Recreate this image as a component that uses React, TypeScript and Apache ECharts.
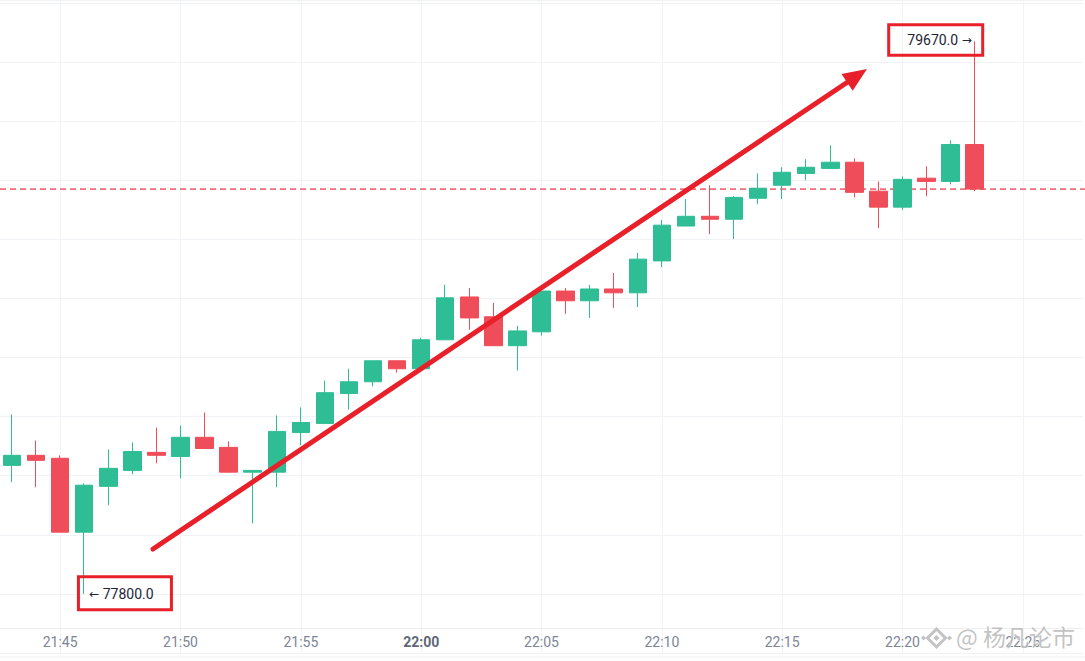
import React, { useEffect, useRef } from "react";
import * as echarts from "echarts";

const times = [
  "21:43", "21:44", "21:45", "21:46", "21:47", "21:48", "21:49", "21:50", "21:51", "21:52",
  "21:53", "21:54", "21:55", "21:56", "21:57", "21:58", "21:59", "22:00", "22:01", "22:02",
  "22:03", "22:04", "22:05", "22:06", "22:07", "22:08", "22:09", "22:10", "22:11", "22:12",
  "22:13", "22:14", "22:15", "22:16", "22:17", "22:18", "22:19", "22:20", "22:21", "22:22",
  "22:23", "22:24", "22:25", "22:26", "22:27",
];

const opens = [
  78235, 78269, 78259, 78009, 78164, 78218, 78279, 78265, 78330, 78296,
  78212, 78212, 78346, 78377, 78478, 78518, 78589, 78562, 78660, 78805,
  78738, 78640, 78687, 78825, 78792, 78832, 78819, 78927, 79045, 79078,
  79068, 79139, 79183, 79223, 79240, 79261, 79163, 79109, 79207, 79196,
  79321,
];
const closes = [
  78269, 78252, 78009, 78168, 78225, 78282, 78269, 78330, 78292, 78212,
  78218, 78350, 78380, 78481, 78518, 78589, 78562, 78660, 78802, 78734,
  78640, 78690, 78825, 78792, 78832, 78819, 78933, 79048, 79078, 79068,
  79142, 79173, 79227, 79244, 79261, 79159, 79109, 79203, 79196, 79321,
  79170,
];
const lows = [
  78178, 78161, 78009, 77800, 78100, 78205, 78242, 78191, 78292, 78212,
  78039, 78161, 78303, 78377, 78424, 78502, 78549, 78562, 78660, 78694,
  78640, 78556, 78674, 78748, 78734, 78768, 78771, 78906, 79045, 79018,
  79001, 79119, 79136, 79200, 79240, 79142, 79038, 79099, 79146, 79186,
  79163,
];
const highs = [
  78407, 78319, 78269, 78174, 78289, 78313, 78363, 78370, 78414, 78316,
  78218, 78404, 78431, 78522, 78562, 78589, 78589, 78667, 78846, 78835,
  78785, 78707, 78825, 78835, 78846, 78886, 78954, 79065, 79136, 79183,
  79146, 79223, 79244, 79271, 79318, 79274, 79196, 79213, 79247, 79335,
  79670,
];

const watermark = "@ 杨凡论市";

const UP = "#2ebd94";
const DOWN = "#ef4d59";
const RED = "#e8202a";
const DASH = "#f0606c";

export default function App() {
  const ref = useRef<HTMLDivElement>(null);

  useEffect(() => {
    const el = ref.current!;
    const chart = echarts.init(el, null, { renderer: "svg" });
    const data = opens.map((o, i) => [o, closes[i], lows[i], highs[i]]);
    const lastIdx = closes.length - 1;
    const lastClose = closes[lastIdx];

    chart.setOption({
      animation: false,
      backgroundColor: "#ffffff",
      grid: { left: -1, right: 2, top: 0, bottom: 8 },
      xAxis: {
        type: "category",
        data: times,
        boundaryGap: true,
        offset: -25,
        axisLine: { show: true, lineStyle: { color: "#eceef2", width: 1 } },
        axisTick: { show: false },
        axisLabel: {
          interval: (i: number) => i % 5 === 2,
          margin: 7,
          fontSize: 14,
          fontFamily: "Roboto",
          color: "#7d8596",
          formatter: (v: string) => (v === "22:00" ? "{b|" + v + "}" : v),
          rich: {
            b: { fontSize: 14, fontFamily: "Roboto", fontWeight: "bold", color: "#5f6778" },
          },
        },
        splitLine: {
          show: true,
          alignWithLabel: true,
          interval: (i: number) => i % 5 === 2,
          lineStyle: { color: "#f2f3f6", width: 1 },
        },
      },
      yAxis: {
        type: "value",
        min: 77600,
        max: 79810,
        interval: 200,
        axisLabel: { show: false },
        axisLine: { show: false },
        axisTick: { show: false },
        splitLine: { show: true, lineStyle: { color: "#f0f2f5", width: 1 } },
      },
      series: [
        {
          type: "candlestick",
          data,
          barWidth: 18,
          z: 3,
          itemStyle: {
            color: UP,
            color0: DOWN,
            borderColor: UP,
            borderColor0: DOWN,
            borderWidth: 1,
          },
        },
      ],
    });

    let lowIdx = 0;
    lows.forEach((v, i) => { if (v < lows[lowIdx]) lowIdx = i; });
    let highIdx = 0;
    highs.forEach((v, i) => { if (v > highs[highIdx]) highIdx = i; });
    const pLow = chart.convertToPixel({ gridIndex: 0 }, [lowIdx, lows[lowIdx]]) as number[];
    const pHigh = chart.convertToPixel({ gridIndex: 0 }, [highIdx, highs[highIdx]]) as number[];
    const pLast = chart.convertToPixel({ gridIndex: 0 }, [lastIdx, lastClose]) as number[];

    // arrow geometry
    const sx = 153, sy = 549, tx = 867, ty = 69;
    const dx = tx - sx, dy = ty - sy;
    const len = Math.sqrt(dx * dx + dy * dy);
    const ux = dx / len, uy = dy / len;
    const headLen = 24, headHalf = 10;
    const bx = tx - ux * headLen, by = ty - uy * headLen;
    const px = -uy, py = ux;

    const gray = "rgba(175,175,175,0.75)";
    const lx = 936.5, ly = 638;
    const arrowRich = {
      a: { fontFamily: "DejaVu Sans", fontSize: 12, fill: "#1c2536" },
      n: { fontFamily: "Roboto", fontSize: 14, fill: "#1c2536" },
    };
    const yDash = pLast[1];

    chart.setOption({
      graphic: [
        {
          type: "line",
          shape: { x1: 0, y1: yDash, x2: 1085, y2: yDash },
          style: { stroke: DASH, lineWidth: 1.6, lineDash: [6, 4], opacity: 0.9 },
          z: 2,
          silent: true,
        },
        {
          type: "line",
          shape: { x1: sx, y1: sy, x2: bx + ux * 3, y2: by + uy * 3 },
          style: { stroke: RED, lineWidth: 5, lineCap: "round" },
          z: 10,
          silent: true,
        },
        {
          type: "polygon",
          shape: {
            points: [
              [tx, ty],
              [bx + px * headHalf, by + py * headHalf],
              [bx - px * headHalf, by - py * headHalf],
            ],
          },
          style: { fill: RED },
          z: 10,
          silent: true,
        },
        {
          type: "rect",
          shape: { x: pLow[0] - 5.8, y: pLow[1] - 17.2, width: 93, height: 33 },
          style: { fill: "none", stroke: RED, lineWidth: 3 },
          z: 10,
          silent: true,
        },
        {
          type: "text",
          x: pLow[0] + 5,
          y: pLow[1],
          z: 10,
          style: {
            text: "{a|←} {n|" + lows[lowIdx].toFixed(1) + "}",
            rich: arrowRich,
            fontSize: 14,
            fontFamily: "Roboto",
            fill: "#1c2536",
            align: "left",
            verticalAlign: "middle",
          },
          silent: true,
        },
        {
          type: "rect",
          shape: { x: pHigh[0] - 86, y: pHigh[1] - 16.5, width: 94, height: 30.5 },
          style: { fill: "none", stroke: RED, lineWidth: 3 },
          z: 10,
          silent: true,
        },
        {
          type: "text",
          x: pHigh[0] - 3,
          y: pHigh[1] - 1,
          z: 10,
          style: {
            text: "{n|" + highs[highIdx].toFixed(1) + "} {a|→}",
            rich: arrowRich,
            fontSize: 14,
            fontFamily: "Roboto",
            fill: "#1c2536",
            align: "right",
            verticalAlign: "middle",
          },
          silent: true,
        },
        {
          type: "line",
          shape: { x1: 0, y1: 657, x2: 1085, y2: 657 },
          style: { stroke: "#eef0f3", lineWidth: 1 },
          silent: true,
        },
        {
          type: "polygon",
          shape: { points: [[lx, ly - 9], [lx + 9, ly], [lx, ly + 9], [lx - 9, ly]] },
          style: { fill: "none", stroke: gray, lineWidth: 3 },
          z: 10,
          silent: true,
        },
        {
          type: "polygon",
          shape: { points: [[lx, ly - 3], [lx + 3, ly], [lx, ly + 3], [lx - 3, ly]] },
          style: { fill: gray },
          z: 10,
          silent: true,
        },
        {
          type: "polygon",
          shape: { points: [[lx - 13, ly - 2.5], [lx - 10.5, ly], [lx - 13, ly + 2.5], [lx - 15.5, ly]] },
          style: { fill: gray },
          z: 10,
          silent: true,
        },
        {
          type: "polygon",
          shape: { points: [[lx + 13, ly - 2.5], [lx + 15.5, ly], [lx + 13, ly + 2.5], [lx + 10.5, ly]] },
          style: { fill: gray },
          z: 10,
          silent: true,
        },
        {
          type: "text",
          x: 956,
          y: 636,
          z: 10,
          style: {
            text: watermark,
            fontSize: 23,
            fontFamily: "Noto Sans CJK SC",
            fill: gray,
            stroke: "rgba(255,255,255,0.8)",
            lineWidth: 1,
            align: "left",
            verticalAlign: "middle",
          },
          silent: true,
        },
      ],
    });

    return () => chart.dispose();
  }, []);

  return (
    <div
      ref={ref}
      style={{ position: "fixed", left: 0, top: 0, width: 1085, height: 661, background: "#ffffff" }}
    />
  );
}
